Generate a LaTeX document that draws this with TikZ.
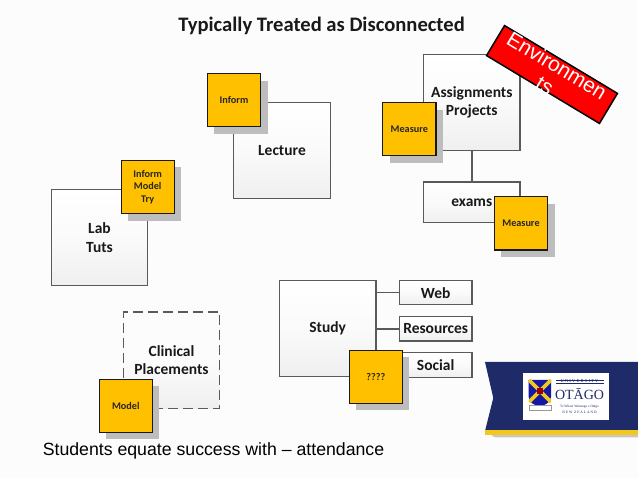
\documentclass[tikz,border=0pt]{standalone}
\usepackage{fontspec}
\setmainfont{Carlito}
\newfontfamily\arialfont{Liberation Sans}
\newfontfamily\logofont{Liberation Serif}
\usetikzlibrary{shadows}
\definecolor{pagebg}{HTML}{FCFCFC}
\definecolor{edgegrey}{HTML}{5A5A5A}
\definecolor{shadowgrey}{HTML}{BDBDBD}
\definecolor{boxlow}{HTML}{EFEFEF}
\definecolor{tabyellow}{HTML}{FFC000}
\definecolor{navy}{HTML}{1F2A68}
\definecolor{gold}{HTML}{F2C81E}
\definecolor{envred}{HTML}{FF0000}
\tikzset{
  box/.style={draw=edgegrey,line width=1.2pt,top color=white,bottom color=boxlow,middle color=white!70!boxlow,
    inner sep=0pt,outer sep=0pt,align=center,text=black!90,font=\bfseries\fontsize{15.5}{18.3}\selectfont},
  bigbox/.style={box,minimum width=96.4pt,minimum height=96.4pt},
  sidebox/.style={box,minimum width=72.7pt,minimum height=24.3pt},
  dashbox/.style={bigbox,dash pattern=on 10pt off 5pt,top color=pagebg,bottom color=boxlow,middle color=pagebg},
  tab/.style={draw=black!90,line width=1.2pt,fill=tabyellow,minimum width=53.2pt,minimum height=53.2pt,
    inner sep=0pt,outer sep=0pt,align=center,text=black!85,font=\bfseries\fontsize{10.2}{12.4}\selectfont,
    general shadow={shadow xshift=7pt,shadow yshift=-7pt,fill=shadowgrey,draw=none}},
  link/.style={draw=edgegrey,line width=1.6pt},
}
\begin{document}
\begin{tikzpicture}[x=1pt,y=-1pt]
\useasboundingbox (0,0) rectangle (638,478);
\fill[pagebg] (0,0) rectangle (638,478);

\node[font=\bfseries\fontsize{20.6}{24}\selectfont,text=black!90] (title) at (321.5,25.5) {Typically Treated as Disconnected};

% main boxes
\node[bigbox,text depth=0pt,label={[font=\bfseries\fontsize{15.5}{18.3}\selectfont,text=black!90,align=center,inner sep=0pt]center:{\raisebox{-1.2pt}{\shortstack{Assignments\\[1.6pt]Projects}}}}] (assign) at (471.8,102.4) {};
\node[box,minimum width=96.4pt,minimum height=40.7pt] (exams) at (471.8,202.4) {exams};
\node[bigbox] (lecture) at (282,150.7) {Lecture};
\node[bigbox] (lab) at (99.5,237.5) {Lab\\Tuts};
\node[dashbox] (clinical) at (171.5,360.2) {Clinical\\Placements};
\node[bigbox] (study) at (327.7,328.7) {\raisebox{-1pt}{Study}};
\node[sidebox] (web) at (435.7,292.7) {Web};
\node[sidebox] (resources) at (435.7,328.9) {Resources};
\node[sidebox] (social) at (435.7,365) {Social};

% connectors
\draw[link] (assign) -- (exams);
\draw[link] (study.east |- web) -- (web);
\draw[link] (study.east |- resources) -- (resources);
\draw[link] (study.east |- social) -- (social);

% yellow tabs
\node[tab] (tabinform) at (234,100.2) {Inform};
\node[tab] (tabtry) at (147.7,187) {Inform\\Model\\Try};
\node[tab] (tabmeasa) at (409.3,129.2) {Measure};
\node[tab] (tabmeasb) at (521,223.5) {Measure};
\node[tab] (tabmodel) at (125.8,405.8) {Model};
\node[tab] (tabq) at (375.8,376.8) {????};

% red banner
\node[draw=black,line width=1.5pt,fill=envred,rotate=-31,minimum width=131.7pt,minimum height=35pt,inner sep=0pt,outer sep=0pt] (envbar) at (552,74.5) {};
\node[rotate=-31,text=white,align=center,font=\arialfont\fontsize{21}{23.5}\selectfont] (envtext) at (551,75.5) {Environmen\\ts};

% bottom line
\node[text=black,font=\arialfont\fontsize{17.7}{22}\selectfont] (caption) at (213.5,451) {Students equate success with – attendance};

% logo banner
\fill[black!22] (490,434) -- (638,434) -- (638,437.5) -- (495,437.5) -- cycle;
\fill[navy] (485,362) -- (638,362) -- (638,431) -- (485,431) -- (493.3,398) -- cycle;
\fill[gold] (485,430) -- (638,430) -- (638,434.7) -- (485,434.7) -- cycle;
\fill[white] (522.7,373.3) rectangle (609.3,420);
% shield
\fill[navy!60!blue] (528.7,380) -- (551,380) -- (551,397) .. controls (551,403) and (544,405) .. (539.8,407) .. controls (535,405) and (528.7,403) .. (528.7,397) -- cycle;
\begin{scope}
\clip (528.7,380) rectangle (551,403);
\draw[gold,line width=3.6pt] (529,380) -- (551,402);
\draw[gold,line width=3.6pt] (551,380) -- (529,402);
\end{scope}
\fill[red!60!black] (537.3,388.5) rectangle (542.5,393.7);
\draw[black!40,line width=.5pt,fill=white] (529,405) rectangle (551,410);
\node[text=navy,font=\logofont\fontsize{4.6}{5}\selectfont] (lguni) at (579.5,381.5) {U N I V E R S I T Y};
\draw[navy,line width=.4pt] (556,380) -- (603.5,380) (556,383.5) -- (603.5,383.5);
\node[text=navy,font=\logofont\fontsize{14}{14}\selectfont] (lgotago) at (579.5,394.5) {OTĀGO};
\node[text=navy,font=\logofont\fontsize{3.4}{3.4}\selectfont] (lgte) at (579.5,407) {Te Whare Wānanga o Otāgo};
\node[text=navy,font=\logofont\fontsize{3.6}{4}\selectfont] (lgnz) at (579.5,412) {N E W \ Z E A L A N D};
\end{tikzpicture}
\end{document}
